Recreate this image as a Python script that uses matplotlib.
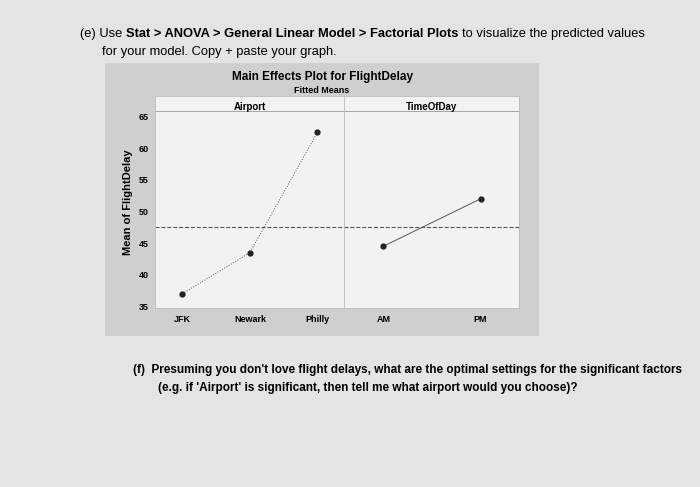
import matplotlib.pyplot as plt
from matplotlib.patches import Rectangle

plt.rcParams['font.family'] = ['Liberation Sans', 'DejaVu Sans']

airport = ['JFK', 'Newark', 'Philly']
airport_means = [37.0, 43.5, 62.5]
timeofday = ['AM', 'PM']
time_means = [44.5, 52.0]
grand_mean = 47.6

fig = plt.figure(figsize=(7, 4.87), dpi=100)
fig.patch.set_facecolor('#e4e4e2')

# gray chart box behind the plot
fig.patches.append(Rectangle((0.15, 0.31), 0.62, 0.56, transform=fig.transFigure,
                             facecolor='#cfcfcf', edgecolor='none', zorder=-5))

ax1 = fig.add_axes([0.222, 0.367, 0.27, 0.435])
ax2 = fig.add_axes([0.492, 0.367, 0.25, 0.435], sharey=ax1)

for ax, labels, vals, title in [(ax1, airport, airport_means, 'Airport'),
                                (ax2, timeofday, time_means, 'TimeOfDay')]:
    ax.set_facecolor('#f2f2f0')
    x = range(len(labels))
    ax.plot(x, vals, color='#555555', lw=0.7, ls=':' if ax is ax1 else '-')
    ax.plot(x, vals, 'o', color='#222222', ms=3.5)
    ax.axhline(grand_mean, color='#555555', ls='--', lw=0.8)
    ax.set_xticks(list(x))
    ax.set_xticklabels(labels, fontsize=6.5, fontweight='bold')
    ax.set_xlim(-0.4, len(labels) - 0.6)
    ax.text(0.5, 0.975, title, transform=ax.transAxes, ha='center', va='top',
            fontsize=7, fontweight='bold')
    ax.axhline(65.9, color='#999999', lw=0.6)
    ax.tick_params(length=0, pad=5)
    for s in ax.spines.values():
        s.set_color('#bbbbbb')
        s.set_linewidth(0.6)

ax1.set_ylim(34.7, 68.2)
ax1.set_yticks([35, 40, 45, 50, 55, 60, 65])
ax1.tick_params(axis='y', labelsize=6.5)
for t in ax1.get_yticklabels():
    t.set_fontweight('bold')
ax1.set_ylabel('Mean of FlightDelay', fontsize=8, fontweight='bold')
plt.setp(ax2.get_yticklabels(), visible=False)

fig.text(0.46, 0.835, 'Main Effects Plot for FlightDelay', ha='center', fontsize=8.5, fontweight='bold')
fig.text(0.46, 0.81, 'Fitted Means', ha='center', fontsize=6.5, fontweight='bold')

# first instruction line, pieces placed one after another
fig.canvas.draw()
r = fig.canvas.get_renderer()
x0 = 0.115
for s, w in [('(e) Use ', 'normal'),
             ('Stat > ANOVA > General Linear Model > Factorial Plots ', 'bold'),
             ('to visualize the predicted values', 'normal')]:
    t = fig.text(x0, 0.925, s, fontsize=9.3, fontweight=w)
    x0 += t.get_window_extent(r).width / fig.bbox.width
fig.text(0.145, 0.887, 'for your model. Copy + paste your graph.', fontsize=9.3)

# question (f), shrunk until it fits the page
prev = None
for s, y, xs in [("(f)  Presuming you don't love flight delays, what are the optimal settings for the significant factors", 0.235, 0.19),
                 ("(e.g. if 'Airport' is significant, then tell me what airport would you choose)?", 0.198, 0.225)]:
    t = fig.text(xs, y, s, fontsize=9.5, fontweight='bold')
    while t.get_window_extent(r).x1 > 0.985 * fig.bbox.width:
        t.set_fontsize(t.get_fontsize() - 0.2)
    if prev is not None:
        t.set_fontsize(prev)
    prev = t.get_fontsize()

fig.savefig('out.png', dpi=100, facecolor=fig.get_facecolor())
